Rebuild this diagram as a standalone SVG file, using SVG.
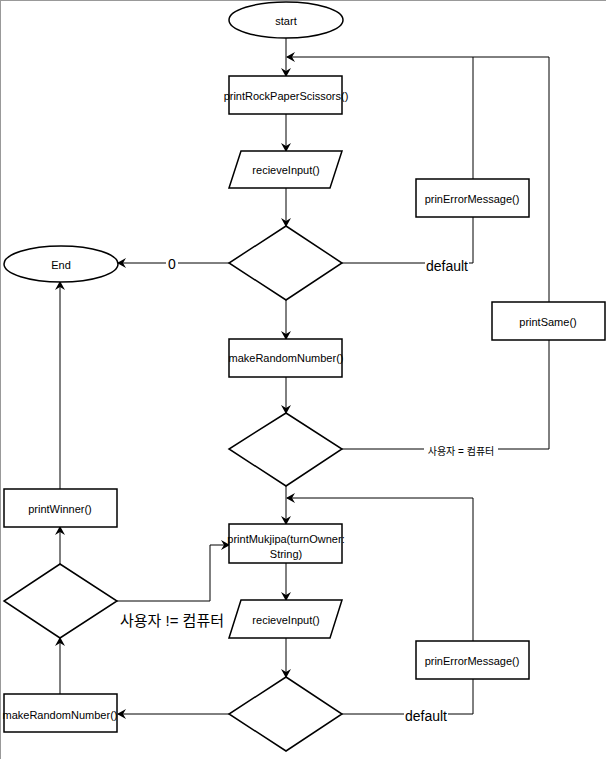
<svg xmlns="http://www.w3.org/2000/svg" width="606" height="759" viewBox="0 0 606 759">
<style>
.s{fill:#fff;stroke:#000;stroke-width:1.5}
.c{fill:none;stroke:#000;stroke-width:1}
text{font-family:"Liberation Sans","Noto Sans CJK KR",sans-serif;font-size:11px;text-anchor:middle;dominant-baseline:central}
.l{font-size:14px}
</style>
<defs><marker id="a" markerWidth="10" markerHeight="10" refX="8" refY="5" orient="auto" markerUnits="userSpaceOnUse"><path d="M0,0 L9,5 L0,10 L3,5 Z" fill="#000"/></marker></defs>
<rect x="0" y="0" width="606" height="759" fill="#fff"/>
<path d="M0.5,0 V759 M0,0.5 H606" stroke="#999" stroke-width="1"/>
<g id="connectors" class="c">
<path d="M286,38 V76" marker-end="url(#a)"/>
<path d="M549,302 V57 H287" marker-end="url(#a)"/>
<path d="M473,179 V57"/>
<path d="M286,114 V151" marker-end="url(#a)"/>
<path d="M286,188 V226" marker-end="url(#a)"/>
<path d="M342,263 H473 V217"/>
<path d="M229,263 H118" marker-end="url(#a)"/>
<path d="M286,300 V339" marker-end="url(#a)"/>
<path d="M286,377 V413" marker-end="url(#a)"/>
<path d="M342,449 H549 V340"/>
<path d="M286,486 V524" marker-end="url(#a)"/>
<path d="M473,641 V498 H287" marker-end="url(#a)"/>
<path d="M286,563 V600" marker-end="url(#a)"/>
<path d="M286,638 V677" marker-end="url(#a)"/>
<path d="M342,714 H473 V679"/>
<path d="M229,714 H118" marker-end="url(#a)"/>
<path d="M60,694 V638" marker-end="url(#a)"/>
<path d="M117,601 H210 V545 H229" marker-end="url(#a)"/>
<path d="M60,564 V527" marker-end="url(#a)"/>
<path d="M60,489 V282" marker-end="url(#a)"/>
</g>
<g id="labels">
<rect x="166" y="256" width="12" height="16" fill="#fff"/><text x="172" y="264" class="l">0</text>
<rect x="425" y="257" width="44" height="16" fill="#fff"/><text x="447" y="266" class="l">default</text>
<rect x="424" y="443" width="74" height="14" fill="#fff"/><text x="461" y="451" style="font-size:10px">사용자 = 컴퓨터</text>
<rect x="404" y="708" width="44" height="16" fill="#fff"/><text x="426" y="716" class="l">default</text>
<text x="172" y="620" style="font-size:15px">사용자 != 컴퓨터</text>
</g>
<g id="start"><ellipse class="s" cx="286" cy="20" rx="57" ry="18"/><text x="286" y="21">start</text></g>
<g id="printRPS"><rect class="s" x="229" y="76" width="113" height="38"/><text x="286" y="96">printRockPaperScissors()</text></g>
<g id="input1"><path class="s" d="M241,151 H342 L330,188 H229 Z"/><text x="286" y="170">recieveInput()</text></g>
<g id="dec1"><path class="s" d="M286,226 L342,263 L286,300 L229,263 Z"/></g>
<g id="err1"><rect class="s" x="416" y="179" width="113" height="38"/><text x="472" y="199">prinErrorMessage()</text></g>
<g id="end"><ellipse class="s" cx="61" cy="264" rx="57" ry="18"/><text x="61" y="265">End</text></g>
<g id="rand1"><rect class="s" x="229" y="339" width="113" height="38"/><text x="286" y="358">makeRandomNumber()</text></g>
<g id="dec2"><path class="s" d="M286,413 L342,449 L286,486 L229,449 Z"/></g>
<g id="same"><rect class="s" x="492" y="302" width="113" height="38"/><text x="548" y="322">printSame()</text></g>
<g id="muk"><rect class="s" x="229" y="524" width="113" height="39"/><text x="286" y="539">printMukjipa(turnOwner:</text><text x="286" y="554">String)</text></g>
<g id="input2"><path class="s" d="M241,600 H342 L330,638 H229 Z"/><text x="286" y="620">recieveInput()</text></g>
<g id="dec3"><path class="s" d="M286,677 L342,714 L286,751 L229,714 Z"/></g>
<g id="err2"><rect class="s" x="416" y="641" width="113" height="38"/><text x="472" y="661">prinErrorMessage()</text></g>
<g id="rand2"><rect class="s" x="4" y="694" width="113" height="38"/><text x="60" y="715">makeRandomNumber()</text></g>
<g id="dec4"><path class="s" d="M60,564 L117,601 L60,638 L4,601 Z"/></g>
<g id="winner"><rect class="s" x="4" y="489" width="113" height="38"/><text x="60" y="509">printWinner()</text></g>
</svg>
